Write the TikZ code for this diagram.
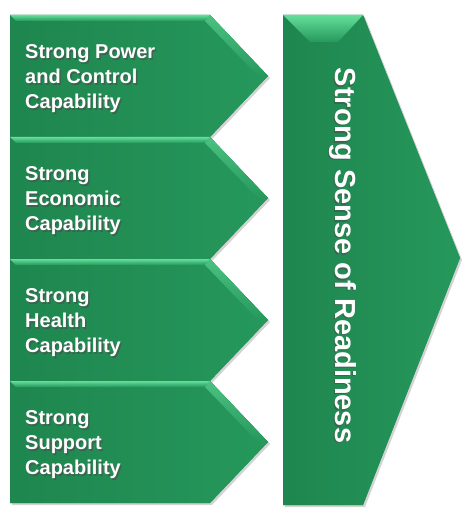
\documentclass[tikz,border=0pt]{standalone}
\usepackage{fontspec}
\setmainfont{Liberation Sans}
\definecolor{capgreen}{RGB}{38, 152, 92}
\definecolor{capdark}{RGB}{30, 134, 78}
\definecolor{caplight}{RGB}{100, 222, 154}
\usetikzlibrary{shadows}

\begin{document}
\begin{tikzpicture}[x=1pt, y=-1pt,
        chev/.style={fill=capgreen, left color=capdark, right color=capgreen,
                     drop shadow={opacity=0.35, shadow xshift=2pt, shadow yshift=-2pt}},
        bevel/.style={top color=caplight, bottom color=capgreen},
        captext/.style={text=white, font=\bfseries\fontsize{20}{25}\selectfont,
                        align=left, anchor=west, inner sep=0pt},
        capshadow/.style={text=black!70, font=\bfseries\fontsize{20}{25}\selectfont,
                          align=left, anchor=west, inner sep=0pt, opacity=0.6}
      ]
        \useasboundingbox (0,0) rectangle (468,510);
        % four capability chevrons
        \foreach \i/\txt/\nm in {0/{Strong Power\\and Control\\Capability}/power,
                                 1/{Strong\\Economic\\Capability}/econ,
                                 2/{Strong\\Health\\Capability}/health,
                                 3/{Strong\\Support\\Capability}/support} {
          \pgfmathsetmacro{\t}{15+122*\i}
          \pgfmathsetmacro{\m}{\t+61}
          \pgfmathsetmacro{\b}{\t+122}
          \path[chev] (10,\t) -- (210,\t) -- (268,\m) -- (210,\b) -- (10,\b) -- cycle;
          \shade[bevel] (10,\t) -- (210,\t) -- (205,\t+6) -- (16,\t+6) -- cycle;
          \shade[top color=caplight!60!capgreen, bottom color=capgreen]
            (210,\t) -- (268,\m) -- (258,\m) -- (205,\t+6) -- cycle;
          \node[capshadow] at (26.5,\m+4.5) {\txt};
          \node[captext] (\nm) at (25,\m+3) {\txt};
        }
        % readiness arrow
        \path[chev] (283,15) -- (363,15) -- (460,258) -- (363,505) -- (283,505) -- cycle;
        \shade[bevel] (283,15) -- (363,15) -- (338,42) -- (310,42) -- cycle;
        \node[text=black!70, opacity=0.6, rotate=-90,
              font=\bfseries\fontsize{29}{32}\selectfont] at (341.5,257) {Strong Sense of Readiness};
        \node[text=white, rotate=-90, font=\bfseries\fontsize{29}{32}\selectfont]
          (ready) at (343,255.5) {Strong Sense of Readiness};
      \end{tikzpicture}
\end{document}
